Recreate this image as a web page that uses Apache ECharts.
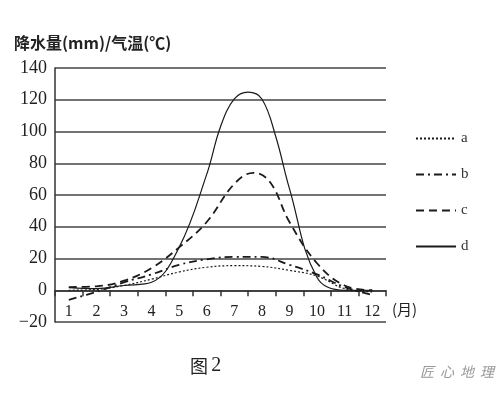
<!DOCTYPE html>
<html lang="zh">
<head>
    <meta charset="UTF-8">
    <script src="https://cdn.jsdelivr.net/npm/echarts@6/dist/echarts.min.js"></script>
    <title>图2</title>
    <style>
        html, body {margin: 0; padding: 0; background: #fff;}
    </style>
</head>
<body>

<div id="ec" style="width:504px;height:397px;"></div>

<script>
    // 月份 / 数据  [月, 值]
    var months = ['1', '2', '3', '4', '5', '6', '7', '8', '9', '10', '11', '12'];
    var yTicks = [-20, 0, 20, 40, 60, 80, 100, 120, 140];
    var seriesA = [[1, 0], [2, 0.5], [3, 3], [4, 7], [5, 11.5], [6, 14.5], [7, 15.5], [8, 15], [9, 12.5], [10, 9], [11, 1], [12, -1]];
    var seriesB = [[1, -6], [2, -1], [3, 5], [4, 10], [5, 16], [6, 19.5], [7, 21], [8, 21], [9, 16], [10, 10], [11, 2], [12, -3]];
    var seriesC = [[1, 2], [2, 2.5], [3, 6], [4, 14], [5, 27], [6, 43], [7, 67], [7.7, 74], [8.3, 68], [9, 43], [10, 17], [11, 3], [12, 0]];
    var seriesD = [[1, 1.7], [2, 1], [3, 3], [4, 5], [5, 27], [6, 73], [6.5, 103], [7, 120.5], [7.5, 124.8], [8, 120.5], [8.5, 97], [9, 64], [10, 8], [11, 0], [12, 0]];
    var mark = ['匠', '心', '地', '理'];

    var dom = document.getElementById('ec');
    var myChart = echarts.init(dom);

    var serif = 'Liberation Serif';
    var cjk = 'Noto Sans CJK SC';

    function line(name, data, type, width) {
        return {
            name: name,
            type: 'line',
            xAxisIndex: 1,
            data: data,
            smooth: 0.4,
            symbol: 'none',
            itemStyle: {color: '#1a1a1a'},
            lineStyle: {color: '#1a1a1a', width: width, type: type}
        };
    }

    var graphics = [
        {type: 'text', left: 14, top: 35,
            style: {text: '降水量(mm)/气温(℃)', font: 'bold 16px "' + cjk + '"', fill: '#222'}},
        {type: 'text', left: 392, top: 302,
            style: {text: '(月)', font: '15px "' + cjk + '"', fill: '#222'}},
        {type: 'text', left: 190, top: 356,
            style: {
                text: '{c|图} {n|2}',
                rich: {
                    c: {font: '18px "' + cjk + '"', fill: '#222'},
                    n: {font: '20px "' + serif + '"', fill: '#222'}
                }
            }}
    ];
    mark.forEach(function (ch, i) {
        graphics.push({type: 'text', left: 420 + i * 20, top: 365,
            style: {text: ch, font: 'italic 14px "' + cjk + '"', fill: '#999'}});
    });

    myChart.setOption({
        animation: false,
        grid: {left: 55, right: 118, top: 68, bottom: 75},
        graphic: graphics,
        legend: {
            orient: 'vertical',
            left: 410,
            top: 126,
            itemWidth: 40,
            itemHeight: 14,
            itemGap: 21,
            data: ['a', 'b', 'c', 'd'],
            itemStyle: {opacity: 0},
            textStyle: {fontFamily: serif, fontSize: 15, color: '#333'}
        },
        xAxis: [{
            type: 'category',
            data: months,
            boundaryGap: true,
            offset: -31.75,
            axisLine: {onZero: false, lineStyle: {color: '#333', width: 1.5}},
            axisTick: {show: true, length: 6, lineStyle: {color: '#333', width: 1.5}},
            axisLabel: {margin: 14, fontFamily: serif, fontSize: 16, color: '#222'}
        }, {
            type: 'value',
            min: 0.5,
            max: 12.5,
            show: false
        }],
        yAxis: {
            type: 'value',
            min: yTicks[0],
            max: yTicks[yTicks.length - 1],
            interval: 20,
            axisLine: {show: true, lineStyle: {color: '#333', width: 1.5}},
            axisTick: {show: false},
            axisLabel: {
                margin: 8, fontFamily: serif, fontSize: 18, color: '#222',
                formatter: function (v) { return String(v).replace('-', '−'); }
            },
            splitLine: {show: true, lineStyle: {color: '#444', width: 1.5}}
        },
        series: [
            line('a', seriesA, [2, 2], 1.2),
            line('b', seriesB, [8, 4, 2, 4], 1.8),
            line('c', seriesC, [8, 5], 1.8),
            line('d', seriesD, 'solid', 1.2)
        ]
    });
</script>

</body>
</html>
